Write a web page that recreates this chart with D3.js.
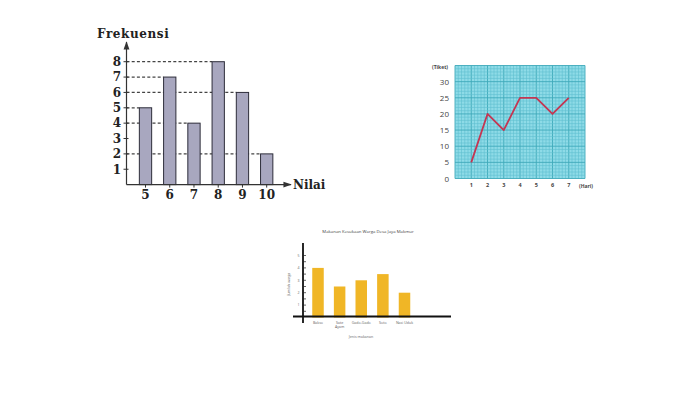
<!DOCTYPE html>
<html>
<head>
<meta charset="utf-8">
<script src="https://cdn.jsdelivr.net/npm/d3@7"></script>
<style>
  body { margin: 0; background: #fff; }
</style>
</head>
<body>
<script>
// data for the three charts
const nilai = ["5", "6", "7", "8", "9", "10"];
const frekuensi = [5, 7, 4, 8, 6, 2];
const freqTicks = [1, 2, 3, 4, 5, 6, 7, 8];

const hari = [1, 2, 3, 4, 5, 6, 7];
const tiket = [5, 20, 15, 25, 25, 20, 25];
const tiketTicks = [0, 5, 10, 15, 20, 25, 30];

const makanan = ["Bakso", "Sate Ayam", "Gado-Gado", "Soto", "Nasi Uduk"];
const jumlahWarga = [4, 2.5, 3, 3.5, 2];
const wargaTicks = [1, 2, 3, 4, 5];

const W = 700, H = 393;
const svg = d3.select("body").append("svg")
  .attr("width", W).attr("height", H)
  .style("display", "block");

// ---------- chart 1 : Frekuensi / Nilai ----------
const c1 = svg.append("g");
const serif = "DejaVu Serif, Liberation Serif, serif";
const x1 = d3.scalePoint().domain(nilai).range([145.5, 266.7]);
const y1 = d3.scaleLinear().domain([0, 8]).range([184.6, 61.7]);
const axX1 = 126.5, bw1 = 12.3;
const ink = "#333";

// dashed guides from axis to the bar
c1.selectAll("line.guide").data(frekuensi).join("line")
  .attr("x1", axX1).attr("x2", (d, i) => x1(nilai[i]) - bw1 / 2)
  .attr("y1", d => y1(d)).attr("y2", d => y1(d))
  .attr("stroke", "#444").attr("stroke-width", 1.2)
  .attr("stroke-dasharray", "3,2.2");

c1.selectAll("rect").data(frekuensi).join("rect")
  .attr("x", (d, i) => x1(nilai[i]) - bw1 / 2)
  .attr("y", d => y1(d))
  .attr("width", bw1)
  .attr("height", d => y1(0) - y1(d))
  .attr("fill", "#a8a7bf").attr("stroke", "#2d2d3a").attr("stroke-width", 1);

// axes with arrows
const defs = svg.append("defs");
defs.append("marker").attr("id", "arr").attr("viewBox", "0 0 10 10")
  .attr("refX", 9).attr("refY", 5).attr("markerWidth", 7).attr("markerHeight", 7)
  .attr("orient", "auto-start-reverse")
  .append("path").attr("d", "M0,1.5 L10,5 L0,8.5 Z").attr("fill", ink);

c1.append("line").attr("x1", axX1).attr("x2", axX1)
  .attr("y1", y1(0)).attr("y2", 42)
  .attr("stroke", ink).attr("stroke-width", 1.2).attr("marker-end", "url(#arr)");
c1.append("line").attr("x1", axX1).attr("x2", 291)
  .attr("y1", y1(0)).attr("y2", y1(0))
  .attr("stroke", ink).attr("stroke-width", 1.2).attr("marker-end", "url(#arr)");

c1.selectAll("line.yt").data(freqTicks).join("line")
  .attr("x1", axX1 - 3).attr("x2", axX1 + 2)
  .attr("y1", d => y1(d)).attr("y2", d => y1(d))
  .attr("stroke", ink).attr("stroke-width", 1);
c1.selectAll("text.yl").data(freqTicks).join("text")
  .attr("x", 121).attr("y", d => y1(d) + 4.3)
  .attr("text-anchor", "end")
  .style("font", "bold 12px " + serif).attr("fill", "#222")
  .text(d => d);

c1.selectAll("line.xt").data(nilai).join("line")
  .attr("x1", d => x1(d)).attr("x2", d => x1(d))
  .attr("y1", y1(0)).attr("y2", y1(0) + 3)
  .attr("stroke", ink).attr("stroke-width", 1);
c1.selectAll("text.xl").data(nilai).join("text")
  .attr("x", d => x1(d)).attr("y", 199)
  .attr("text-anchor", "middle")
  .style("font", "bold 12px " + serif).attr("fill", "#222")
  .text(d => d);

c1.append("text").attr("x", 97).attr("y", 38)
  .style("font", "bold 12px " + serif).style("letter-spacing", "0.6px")
  .attr("fill", "#222").text("Frekuensi");
c1.append("text").attr("x", 293).attr("y", 189)
  .style("font", "bold 12px " + serif).attr("fill", "#222").text("Nilai");

// ---------- chart 2 : Tiket / Hari ----------
const c2 = svg.append("g");
const x2 = d3.scaleLinear().domain([0, 8]).range([455, 585]);
const y2 = d3.scaleLinear().domain([0, 35]).range([178.5, 65.5]);
c2.append("rect").attr("x", x2(0)).attr("y", y2(35))
  .attr("width", x2(8) - x2(0)).attr("height", y2(0) - y2(35))
  .attr("fill", "#8edbe7");
const gx = d3.range(0, 8.01, 0.2), gy = d3.range(0, 35.01, 1);
c2.selectAll("line.gx").data(gx).join("line")
  .attr("x1", d => x2(d)).attr("x2", d => x2(d))
  .attr("y1", y2(0)).attr("y2", y2(35))
  .attr("stroke", (d, i) => i % 5 === 0 ? "#3fa9ba" : "#5fbfd0")
  .attr("stroke-width", (d, i) => i % 5 === 0 ? 0.9 : 0.6);
c2.selectAll("line.gy").data(gy).join("line")
  .attr("x1", x2(0)).attr("x2", x2(8))
  .attr("y1", d => y2(d)).attr("y2", d => y2(d))
  .attr("stroke", (d, i) => i % 5 === 0 ? "#3fa9ba" : "#5fbfd0")
  .attr("stroke-width", (d, i) => i % 5 === 0 ? 0.9 : 0.6);

c2.append("path").datum(tiket)
  .attr("d", d3.line().x((d, i) => x2(hari[i])).y(d => y2(d)))
  .attr("fill", "none").attr("stroke", "#c43652").attr("stroke-width", 1.8)
  .attr("stroke-linejoin", "round");

const sans = "Open Sans, Noto Sans, sans-serif";
c2.selectAll("text.yl").data(tiketTicks).join("text")
  .attr("x", 449).attr("y", d => y2(d) + 3)
  .attr("text-anchor", "end")
  .style("font", "8px " + sans).attr("fill", "#444").text(d => d);
c2.selectAll("text.xl").data(hari).join("text")
  .attr("x", d => x2(d)).attr("y", 187)
  .attr("text-anchor", "middle")
  .style("font", "bold 5.5px " + sans).attr("fill", "#444").text(d => d);
c2.append("text").attr("x", 432).attr("y", 69)
  .style("font", "bold 5px " + sans).attr("fill", "#444").text("(Tiket)");
c2.append("text").attr("x", 579).attr("y", 188)
  .style("font", "bold 5px " + sans).attr("fill", "#444").text("(Hari)");

// ---------- chart 3 : Makanan Kesukaan ----------
const c3 = svg.append("g");
const x3 = d3.scalePoint().domain(makanan).range([318, 404.5]);
const y3 = d3.scaleLinear().domain([0, 5]).range([317.5, 255.5]);
const bw3 = 11.5;
const gold = "#f0b626";

c3.selectAll("rect").data(jumlahWarga).join("rect")
  .attr("x", (d, i) => x3(makanan[i]) - bw3 / 2)
  .attr("y", d => y3(d))
  .attr("width", bw3)
  .attr("height", d => y3(0) - y3(d))
  .attr("fill", gold);

c3.append("line").attr("x1", 293).attr("x2", 451)
  .attr("y1", y3(0) - 1).attr("y2", y3(0) - 1)
  .attr("stroke", "#111").attr("stroke-width", 1.8);
c3.append("line").attr("x1", 303).attr("x2", 303)
  .attr("y1", 243).attr("y2", 323)
  .attr("stroke", "#111").attr("stroke-width", 1.8);

const minor3 = d3.range(0.5, 5.01, 0.5);
c3.selectAll("line.yt").data(minor3).join("line")
  .attr("x1", 303).attr("x2", 306)
  .attr("y1", d => y3(d)).attr("y2", d => y3(d))
  .attr("stroke", "#222").attr("stroke-width", 0.7);
c3.selectAll("text.yl").data(wargaTicks).join("text")
  .attr("x", 299.5).attr("y", d => y3(d) + 1.2)
  .attr("text-anchor", "end")
  .style("font", "3.5px " + sans).attr("fill", "#666").text(d => d);

c3.selectAll("text.xl").data(makanan).join("text")
  .attr("x", d => x3(d)).attr("y", 324)
  .attr("text-anchor", "middle")
  .style("font", "3.6px " + sans).attr("fill", "#666")
  .each(function(d) {
    const parts = d === "Sate Ayam" ? ["Sate", "Ayam"] : [d];
    d3.select(this).selectAll("tspan").data(parts).join("tspan")
      .attr("x", x3(d)).attr("dy", (p, j) => j === 0 ? 0 : 4.3).text(p => p);
  });

c3.append("text").attr("x", 368).attr("y", 233)
  .attr("text-anchor", "middle")
  .style("font", "4.3px " + sans).attr("fill", "#444")
  .text("Makanan Kesukaan Warga Desa Jaya Makmur");
c3.append("text").attr("x", 361).attr("y", 337.5)
  .attr("text-anchor", "middle")
  .style("font", "3.6px " + sans).attr("fill", "#666").text("Jenis makanan");
c3.append("text")
  .attr("transform", "translate(290,284) rotate(-90)")
  .attr("text-anchor", "middle")
  .style("font", "3.6px " + sans).attr("fill", "#666").text("Jumlah warga");
</script>
</body>
</html>
